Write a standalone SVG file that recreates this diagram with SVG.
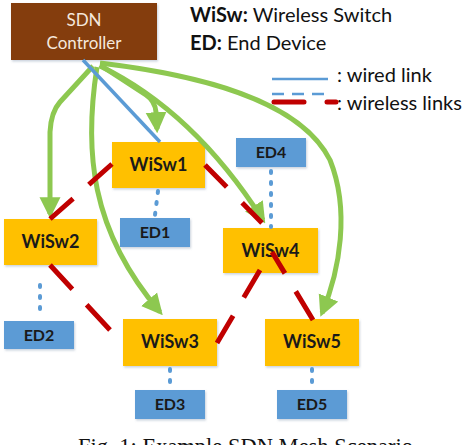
<svg xmlns="http://www.w3.org/2000/svg" width="474" height="445" viewBox="0 0 474 445">
<defs>
<style>
.sw{fill:#FFC000}
.ed{fill:#5B9BD5}
.box{filter:url(#sh)}
.swt{font-family:Lato,"Open Sans",sans-serif;font-weight:bold;font-size:18px;fill:#1a1a1a;text-anchor:middle}
.edt{font-family:Lato,"Open Sans",sans-serif;font-weight:bold;font-size:16px;fill:#1a1a1a;text-anchor:middle}
.lg{font-family:Lato,"Open Sans",sans-serif;font-size:20px;fill:#111}
.ctl{font-family:Lato,"Open Sans",sans-serif;font-size:17px;fill:#F5E8DC;text-anchor:middle}
.green{fill:none;stroke:#8DC850;stroke-width:5;marker-end:url(#ah)}
.wired{fill:none;stroke:#5B9BD5;stroke-width:3.5}
.wl{fill:none;stroke:#C00000;stroke-width:5}
.dot{fill:none;stroke:#5B9BD5;stroke-width:4;stroke-linecap:round;stroke-dasharray:2 9}
</style>
<filter id="sh" x="-10%" y="-10%" width="130%" height="140%">
<feDropShadow dx="1" dy="1.5" stdDeviation="1.2" flood-color="#7a8fa8" flood-opacity="0.4"/>
</filter>
<marker id="ah" viewBox="0 0 10 10" refX="8" refY="5" markerUnits="userSpaceOnUse" markerWidth="21" markerHeight="22" orient="auto">
<path d="M0,0 L10,5 L0,10 z" fill="#8DC850"/>
</marker>
</defs>
<rect width="474" height="445" fill="#fff"/>

<g id="legend">
<text class="lg" x="190" y="22"><tspan font-weight="bold">WiSw:</tspan> Wireless Switch</text>
<text class="lg" x="190" y="50"><tspan font-weight="bold">ED:</tspan> End Device</text>
<line x1="272" y1="79" x2="328" y2="79" stroke="#5B9BD5" stroke-width="2.5"/>
<line x1="272" y1="94" x2="328" y2="94" stroke="#5B9BD5" stroke-width="2.5" stroke-dasharray="12 8"/>
<path d="M274,102 H304 M327,102 H336" stroke="#C00000" stroke-width="5" stroke-linecap="round"/>
<text class="lg" x="337" y="82">: wired link</text>
<text class="lg" x="337" y="110">: wireless links</text>
</g>

<g id="controller">
<rect class="box" x="11" y="3" width="146" height="57" fill="#843C0C"/>
<text class="ctl" x="84" y="26">SDN</text>
<text class="ctl" x="84" y="49">Controller</text>
</g>

<g id="WiSw1"><rect class="sw box" x="112" y="142" width="93" height="46"/><text class="swt" x="158.5" y="171">WiSw1</text></g>
<g id="WiSw2"><rect class="sw box" x="4" y="219" width="93" height="46"/><text class="swt" x="50.5" y="248">WiSw2</text></g>
<g id="WiSw3"><rect class="sw box" x="123" y="319" width="94" height="47"/><text class="swt" x="170" y="348">WiSw3</text></g>
<g id="WiSw4"><rect class="sw box" x="223" y="228" width="95" height="45"/><text class="swt" x="270.5" y="257">WiSw4</text></g>
<g id="WiSw5"><rect class="sw box" x="265" y="319" width="94" height="47"/><text class="swt" x="312" y="348">WiSw5</text></g>
<g id="ED1"><rect class="ed box" x="120" y="218" width="70" height="29"/><text class="edt" x="155" y="238">ED1</text></g>
<g id="ED2"><rect class="ed box" x="4" y="321" width="70" height="28"/><text class="edt" x="39" y="341">ED2</text></g>
<g id="ED3"><rect class="ed box" x="135" y="390" width="70" height="29"/><text class="edt" x="170" y="410">ED3</text></g>
<g id="ED4"><rect class="ed box" x="236" y="138" width="70" height="29"/><text class="edt" x="271" y="158">ED4</text></g>
<g id="ED5"><rect class="ed box" x="277" y="390" width="70" height="29"/><text class="edt" x="312" y="410">ED5</text></g>

<g id="connectors">
<path class="green" d="M93,66 L60,102 Q51,112 50,132 L50,214"/>
<path class="green" d="M97,67 C84,150 90,230 160,312"/>
<path class="green" d="M100,65 L146,95 Q155,101 156,112 L157,129"/>
<path class="green" d="M100,66 C160,95 215,145 263,220"/>
<path class="green" d="M100,63 C200,75 300,100 330,160 C350,210 340,270 322,313"/>
<line class="wired" x1="83" y1="60" x2="160" y2="142"/>
<line class="wl" x1="112" y1="164" x2="50" y2="219" stroke-dasharray="31 21 40"/>
<line class="wl" x1="205" y1="165" x2="262" y2="223" stroke-dasharray="31 22 40"/>
<line class="wl" x1="50" y1="265" x2="110" y2="330" stroke-dasharray="33 21 40"/>
<line class="wl" x1="272" y1="252" x2="313" y2="320" stroke-dasharray="25 21 40"/>
<line class="wl" x1="260" y1="270" x2="217" y2="343" stroke-dasharray="32 21 40"/>
<line class="dot" x1="158" y1="191" x2="155" y2="215"/>
<line class="dot" x1="271" y1="171" x2="271" y2="227"/>
<line class="dot" x1="40" y1="285" x2="40" y2="310"/>
<line class="dot" x1="170" y1="369" x2="170" y2="386"/>
<line class="dot" x1="312" y1="369" x2="312" y2="386"/>
</g>

<text x="78" y="454" font-family="'Liberation Serif','Times New Roman',serif" font-size="22.5" fill="#111">Fig. 1: Example SDN Mesh Scenario</text>
</svg>
